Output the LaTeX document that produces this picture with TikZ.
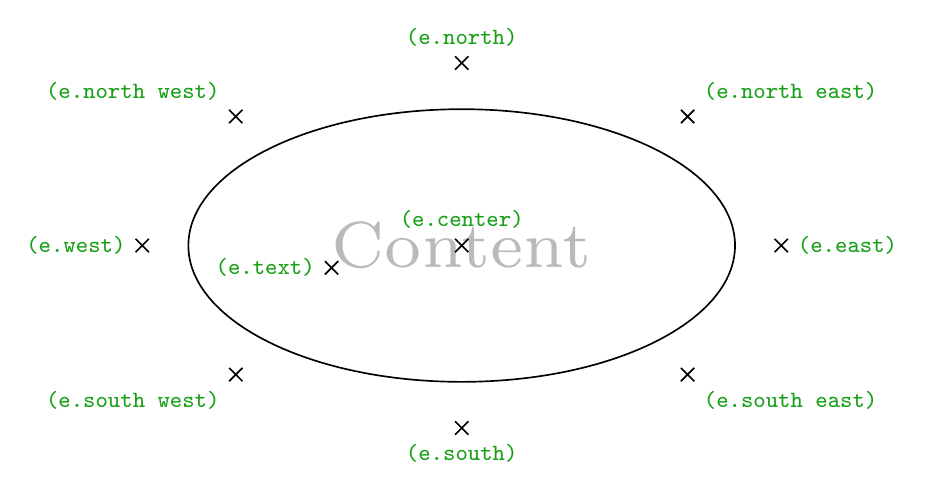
\documentclass[tikz,border=0pt]{standalone}
\usepackage{graphicx}
\usetikzlibrary{shapes.geometric,shapes.misc}
\definecolor{lblgreen}{RGB}{25,160,25}
\begin{document}
\begin{tikzpicture}[x=0.3pt,y=-0.3pt,
  ell/.style={ellipse,draw=black,line width=0.5pt,minimum width=164pt,minimum height=81.8pt,
    inner sep=0pt,outer sep=13.85pt,text=black!27},
  mk/.style={cross out,draw=black,line width=0.5pt,minimum size=4pt,inner sep=0pt,outer sep=0pt},
  lbl/.style={text=lblgreen,font=\fontsize{7}{8}\selectfont\ttfamily,inner sep=2.33pt},
  every label/.style={lbl}, label distance=0.5pt]
\useasboundingbox (0,0) rectangle (925,487);
\node[ell] (e) at (461.7,245.5) {\scalebox{2.8}{\fontsize{7}{8}\selectfont Content}};
\node[mk,label={above:(e.north)}] (mn) at (e.north) {};
\node[mk,label={above left:(e.north west)}] (mnw) at (e.north west) {};
\node[mk,label={above right:(e.north east)}] (mne) at (e.north east) {};
\node[mk,label={left:(e.west)}] (mw) at (e.west) {};
\node[mk,label={right:(e.east)}] (me) at (e.east) {};
\node[mk,label={below left:(e.south west)}] (msw) at (e.south west) {};
\node[mk,label={below right:(e.south east)}] (mse) at (e.south east) {};
\node[mk,label={below:(e.south)}] (ms) at (e.south) {};
\node[mk,label={above:(e.center)}] (mc) at (e.center) {};
\node[mk,label={left:(e.text)}] (mt) at (e.text) {};
\end{tikzpicture}
\end{document}
